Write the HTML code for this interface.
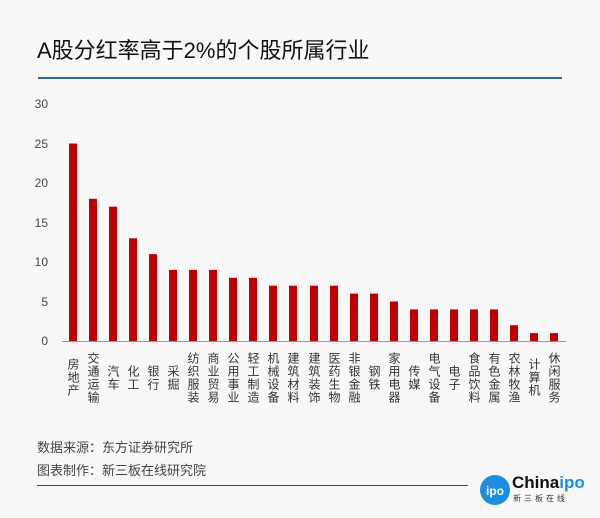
<!DOCTYPE html>
<html><head><meta charset="utf-8"><style>
html,body{margin:0;padding:0;}
body{width:600px;height:518px;background:#f8f8f9;position:relative;overflow:hidden;font-family:"Liberation Sans","Noto Sans CJK SC",sans-serif;}
.t{position:absolute;left:37px;top:33px;font-size:22px;color:#111;white-space:nowrap;}
.f{position:absolute;left:37px;font-size:13px;color:#444;white-space:nowrap;}
.l{position:absolute;width:14px;writing-mode:vertical-rl;font-size:12px;line-height:14px;letter-spacing:1px;color:#333;}
.l4{top:352px}.l3{top:358px}.l2{top:365px}
</style></head><body>
<div class="t">A股分红率高于2%的个股所属行业</div>
<div style="position:absolute;left:38px;top:77px;width:524px;height:2px;background:#3a64a8"></div>
<svg width="600" height="518" style="position:absolute;left:0;top:0" font-family="Liberation Sans, Noto Sans CJK SC, sans-serif">
<g font-size="12" fill="#444" text-anchor="end">
<text x="48" y="345">0</text><text x="48" y="306">5</text><text x="48" y="266">10</text>
<text x="48" y="227">15</text><text x="48" y="187">20</text><text x="48" y="148">25</text><text x="48" y="108">30</text>
</g>
<line x1="62" y1="341.5" x2="566" y2="341.5" stroke="#999" stroke-width="1"/>
<g fill="#c00000">
<rect x="69" y="143.5" width="8" height="197.5"/>
<rect x="89" y="198.8" width="8" height="142.2"/>
<rect x="109" y="206.7" width="8" height="134.3"/>
<rect x="129" y="238.3" width="8" height="102.7"/>
<rect x="149" y="254.1" width="8" height="86.9"/>
<rect x="169" y="269.9" width="8" height="71.1"/>
<rect x="189" y="269.9" width="8" height="71.1"/>
<rect x="209" y="269.9" width="8" height="71.1"/>
<rect x="229" y="277.8" width="8" height="63.2"/>
<rect x="249" y="277.8" width="8" height="63.2"/>
<rect x="269" y="285.7" width="8" height="55.3"/>
<rect x="289" y="285.7" width="8" height="55.3"/>
<rect x="310" y="285.7" width="8" height="55.3"/>
<rect x="330" y="285.7" width="8" height="55.3"/>
<rect x="350" y="293.6" width="8" height="47.4"/>
<rect x="370" y="293.6" width="8" height="47.4"/>
<rect x="390" y="301.5" width="8" height="39.5"/>
<rect x="410" y="309.4" width="8" height="31.6"/>
<rect x="430" y="309.4" width="8" height="31.6"/>
<rect x="450" y="309.4" width="8" height="31.6"/>
<rect x="470" y="309.4" width="8" height="31.6"/>
<rect x="490" y="309.4" width="8" height="31.6"/>
<rect x="510" y="325.2" width="8" height="15.8"/>
<rect x="530" y="333.1" width="8" height="7.9"/>
<rect x="550" y="333.1" width="8" height="7.9"/>
</g>
</svg>
<div class="l l3" style="left:66px">房地产</div>
<div class="l l4" style="left:86px">交通运输</div>
<div class="l l2" style="left:106px">汽车</div>
<div class="l l2" style="left:126px">化工</div>
<div class="l l2" style="left:146px">银行</div>
<div class="l l2" style="left:166px">采掘</div>
<div class="l l4" style="left:186px">纺织服装</div>
<div class="l l4" style="left:206px">商业贸易</div>
<div class="l l4" style="left:226px">公用事业</div>
<div class="l l4" style="left:246px">轻工制造</div>
<div class="l l4" style="left:266px">机械设备</div>
<div class="l l4" style="left:286px">建筑材料</div>
<div class="l l4" style="left:307px">建筑装饰</div>
<div class="l l4" style="left:327px">医药生物</div>
<div class="l l4" style="left:347px">非银金融</div>
<div class="l l2" style="left:367px">钢铁</div>
<div class="l l4" style="left:387px">家用电器</div>
<div class="l l2" style="left:407px">传媒</div>
<div class="l l4" style="left:427px">电气设备</div>
<div class="l l2" style="left:447px">电子</div>
<div class="l l4" style="left:467px">食品饮料</div>
<div class="l l4" style="left:487px">有色金属</div>
<div class="l l4" style="left:507px">农林牧渔</div>
<div class="l l3" style="left:527px">计算机</div>
<div class="l l4" style="left:547px">休闲服务</div>
<div class="f" style="top:437px">数据来源：东方证券研究所</div>
<div class="f" style="top:460px">图表制作：新三板在线研究院</div>
<div style="position:absolute;left:37px;top:485px;width:431px;height:1px;background:#444"></div>
<div style="position:absolute;left:480px;top:475px;width:30px;height:30px;border-radius:50%;background:#1e8fe0;color:#fff;font-size:12px;font-weight:bold;text-align:center;line-height:32px">ipo</div>
<div style="position:absolute;left:512px;top:473px;font-size:17px;font-weight:bold;color:#111">China<span style="color:#1e8fe0">ipo</span></div>
<div style="position:absolute;left:513px;top:493px;font-size:8px;color:#333;letter-spacing:3px">新三板在线</div>
</body></html>
